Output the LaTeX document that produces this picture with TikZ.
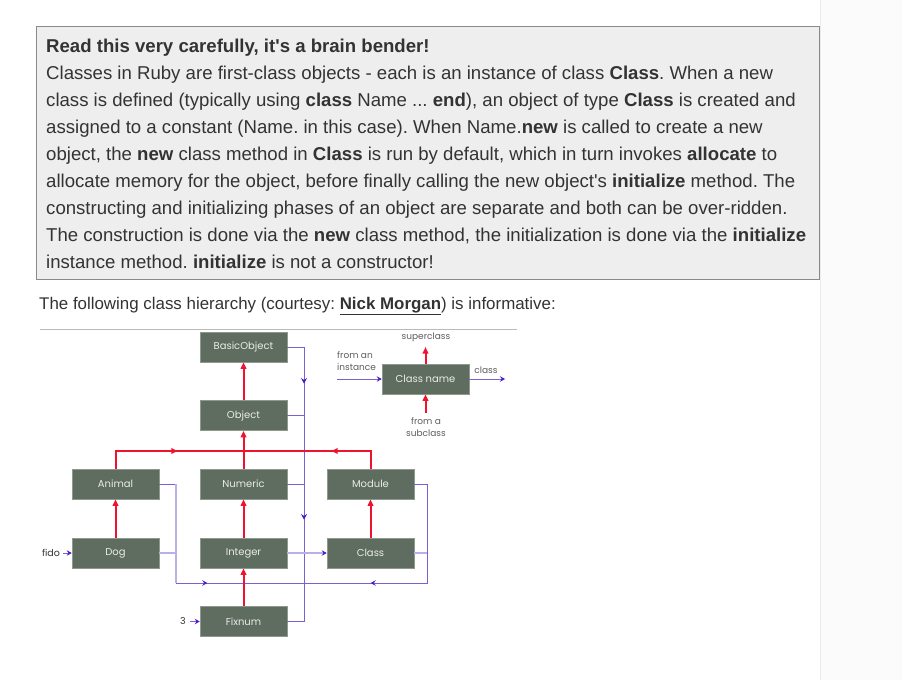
\documentclass[tikz,border=0pt]{standalone}
\usepackage{fontspec}
\setmainfont{Liberation Sans}[Ligatures=TeXOff]
\newfontfamily\diagfont{Poppins}
\usetikzlibrary{arrows.meta,decorations.markings}
\frenchspacing
\definecolor{boxfill}{HTML}{5F6C60}
\definecolor{boxedge}{HTML}{8E998E}
\definecolor{boxtext}{HTML}{E8EDE8}
\definecolor{notegray}{HTML}{5E5E5E}
\definecolor{inhred}{HTML}{EE1430}
\definecolor{instpurple}{HTML}{7C5FD0}
\definecolor{palepurple}{HTML}{BBAEEA}
\definecolor{tipblue}{HTML}{4A1CCC}
\definecolor{bodytext}{HTML}{333333}
\definecolor{panelfill}{HTML}{EEEEEE}
\definecolor{panelrule}{HTML}{8A8A8A}

\begin{document}
\begin{tikzpicture}[x=1pt,y=-1pt,
  classbox/.style={draw=boxedge,fill=boxfill,line width=0.6pt,minimum width=87pt,minimum height=30pt,inner sep=0pt,text=boxtext,font=\diagfont\fontsize{10}{12}\selectfont},
  note/.style={text=notegray,font=\diagfont\fontsize{9}{12.5}\selectfont,inner sep=0pt},
  bodyline/.style={anchor=base west,inner sep=0pt,text=bodytext,font=\fontsize{18.6}{27}\selectfont},
  redln/.style={draw=inhred,line width=2pt},
  superarr/.style={redln,-{Triangle[length=6.5pt,width=5.5pt]}},
  instln/.style={draw=instpurple,line width=0.9pt},
  instarr/.style={instln,-{Stealth[length=5pt,width=5.5pt,inset=1.8pt,color=tipblue]}},
  paleln/.style={draw=palepurple,line width=2pt},
  redmid/.style={postaction={decorate},decoration={markings,mark=at position #1 with {\arrow{Triangle[length=6.5pt,width=5.5pt]}}}},
  bluemid/.style={postaction={decorate},decoration={markings,mark=at position #1 with {\arrow{Stealth[length=5pt,width=5.5pt,inset=1.8pt,color=tipblue]}}}}
]
\useasboundingbox (0,0) rectangle (902,680);
\fill[white] (0,0) rectangle (902,680);
\fill[black!1.5] (820,0) rectangle (902,680);
\draw[black!8] (820.5,0) -- (820.5,680);

% the note panel
\draw[panelrule,fill=panelfill] (36.5,26.5) rectangle (819.5,279.5);
\node[bodyline] (line1) at (46,52) {\textbf{Read this very carefully, it's a brain bender!}};
\node[bodyline] (line2) at (46,79) {Classes in Ruby are first-class objects - each is an instance of class \textbf{Class}. When a new};
\node[bodyline] (line3) at (46,106) {class is defined (typically using \textbf{class} Name ... \textbf{end}), an object of type \textbf{Class} is created and};
\node[bodyline] (line4) at (46,133) {assigned to a constant (Name. in this case). When Name.\textbf{new} is called to create a new};
\node[bodyline] (line5) at (46,160) {object, the \textbf{new} class method in \textbf{Class} is run by default, which in turn invokes \textbf{allocate} to};
\node[bodyline] (line6) at (46,187) {allocate memory for the object, before finally calling the new object's \textbf{initialize} method. The};
\node[bodyline] (line7) at (46,214) {constructing and initializing phases of an object are separate and both can be over-ridden.};
\node[bodyline] (line8) at (46,241) {The construction is done via the \textbf{new} class method, the initialization is done via the \textbf{initialize}};
\node[bodyline] (line9) at (46,268) {instance method. \textbf{initialize} is not a constructor!};
\node[bodyline,font=\fontsize{16.9}{20}\selectfont] (caption) at (39,309) {The following class hierarchy (courtesy: \underline{\textbf{Nick Morgan}}) is informative:};
\draw[black!27] (40,329.5) -- (517,329.5);

% class boxes
\node[classbox] (basic) at (243.5,347) {BasicObject};
\node[classbox] (obj) at (243.5,415.5) {Object};
\node[classbox] (animal) at (115.5,484) {Animal};
\node[classbox] (numeric) at (243.5,484) {Numeric};
\node[classbox] (module) at (370.5,484) {Module};
\node[classbox] (dog) at (115.5,553) {Dog};
\node[classbox] (integer) at (243.5,553) {Integer};
\node[classbox] (class) at (370.5,553) {Class};
\node[classbox] (fixnum) at (243.5,621.5) {Fixnum};
\node[classbox] (cname) at (425.5,379) {Class name};

% legend labels
\node[note] (superlbl) at (426,337) {superclass};
\node[note,align=left,anchor=west] (instlbl) at (337,361) {from an\\instance};
\node[note,align=center] (sublbl) at (426,427) {from a\\subclass};
\node[note] (classlbl) at (486,370) {class};
\node[text=bodytext,font=\diagfont\fontsize{9.5}{11}\selectfont,inner sep=0pt] (fido) at (51,553) {fido};
\node[text=bodytext,font=\diagfont\fontsize{9.5}{11}\selectfont,inner sep=0pt] (three) at (183,621.5) {3};

\coordinate (supend) at (425.5,347);
\coordinate (substart) at (425.5,413);
\coordinate (inststart) at (337,379);
\coordinate (classend) at (505,379);
\coordinate (join) at (243.5,451);
\coordinate (fixtap) at (304,621.5);
\coordinate (ltap) at (176,553);
\coordinate (lbot) at (176,583);
\coordinate (rtap) at (427,553);
\coordinate (rbot) at (427,583);
\coordinate (mbot) at (304,583);

% instance-of links
\draw[instln,bluemid=53pt,bluemid=189pt] (basic.east) -| (fixtap) -- (fixnum.east);
\draw[instln] (obj.east) -- (obj.east -| fixtap);
\draw[instln] (numeric.east) -- (numeric.east -| fixtap);
\draw[instln,bluemid=147pt] (animal.east) -| (lbot) -- (mbot);
\draw[instln,bluemid=168pt] (module.east) -| (rbot) -- (mbot);
\draw[paleln] (animal.east -| lbot) -- (lbot);
\draw[paleln] (dog.east) -- (ltap);
\draw[paleln] (class.east) -- (rtap);
\draw[paleln,-{Stealth[length=5pt,width=5.5pt,inset=1.8pt,color=tipblue]}] (integer.east) -- (class.west);
\draw[instarr,shorten <=3pt] (fido) -- (dog.west);
\draw[instarr,shorten <=4pt] (three) -- (fixnum.west);
\draw[instarr] (inststart) -- (cname.west);
\draw[instarr] (cname.east) -- (classend);

% superclass links
\draw[superarr] (obj.north) -- (basic.south);
\draw[superarr] (numeric.north) -- (obj.south);
\draw[superarr] (integer.north) -- (numeric.south);
\draw[superarr] (fixnum.north) -- (integer.south);
\draw[superarr] (dog.north) -- (animal.south);
\draw[superarr] (class.north) -- (module.south);
\draw[redln,redmid=80pt] (animal.north) |- (join);
\draw[redln,redmid=57pt] (module.north) |- (join);
\draw[superarr] (cname.north) -- (supend);
\draw[superarr] (substart) -- (cname.south);
\end{tikzpicture}
\end{document}
